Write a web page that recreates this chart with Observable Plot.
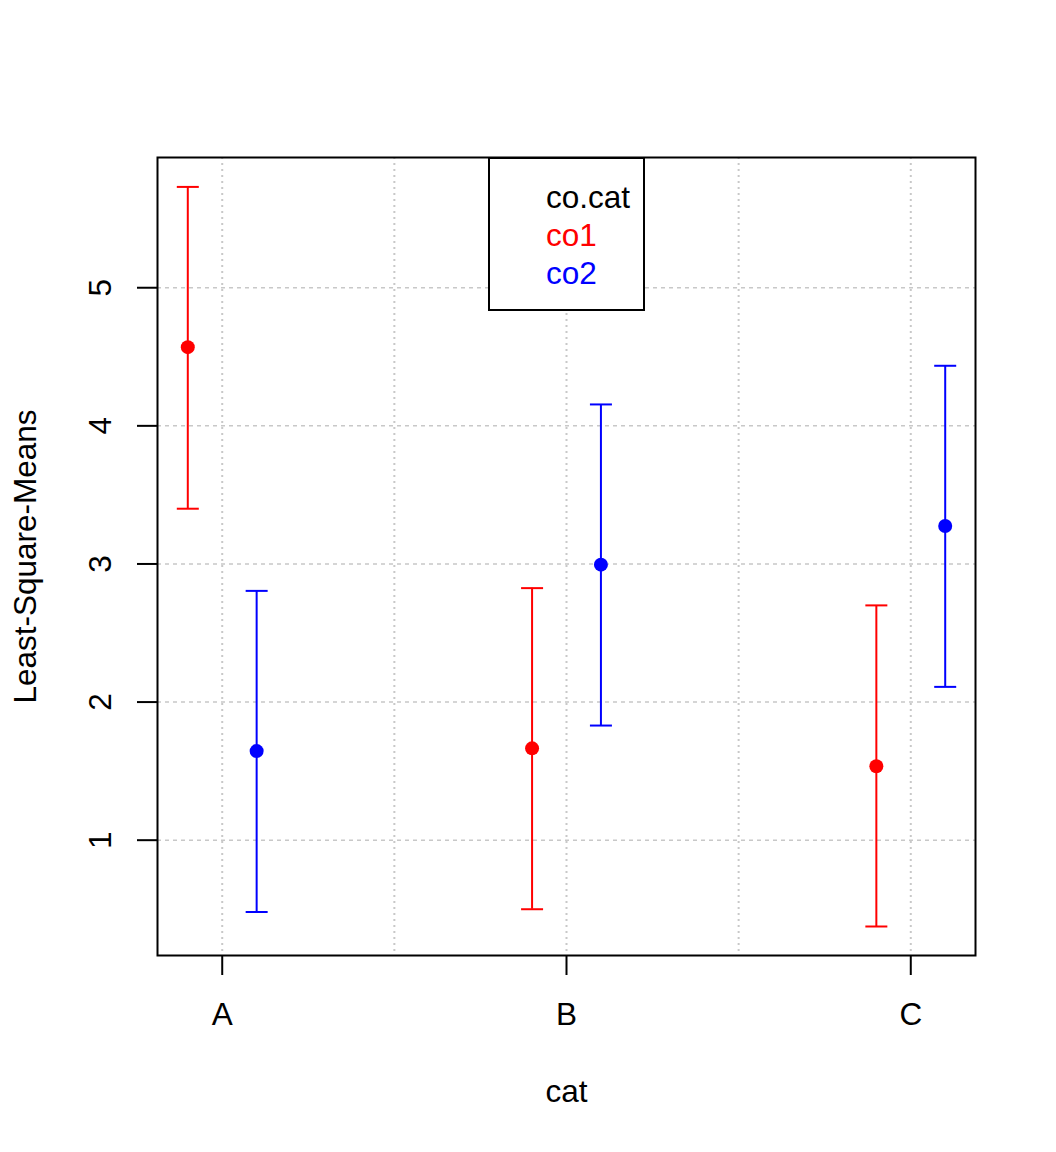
<!DOCTYPE html>
<html>
<head>
<meta charset="utf-8">
<script src="https://cdn.jsdelivr.net/npm/d3@7"></script>
<script src="https://cdn.jsdelivr.net/npm/@observablehq/plot@0.6"></script>
<style>
  html, body { margin: 0; padding: 0; background: #fff; }
  #wrap { position: relative; width: 1056px; height: 1152px; font-family: "Liberation Sans", Arial, Helvetica, sans-serif; }
  #legend { position: absolute; left: 488px; top: 157px; width: 157px; height: 154px; box-sizing: border-box;
            border: 2px solid #000; background: #fff; font-size: 31.5px; }
  #legend div { position: absolute; left: 56px; line-height: 38px; }
</style>
</head>
<body>
<div id="wrap"></div>
<script>
// categories and groups
const cats = ["A", "B", "C"];
const groups = ["co1", "co2"];
const groupColors = ["#ff0000", "#0000ff"];
const groupOffset = [-0.1, 0.1];
// least-square means and confidence bounds, per category (A,B,C)
const co1Mean  = [4.57, 1.665, 1.535];
const co1Lower = [3.40, 0.50, 0.375];
const co1Upper = [5.73, 2.825, 2.70];
const co2Mean  = [1.645, 2.995, 3.275];
const co2Lower = [0.48, 1.83, 2.11];
const co2Upper = [2.805, 4.155, 4.435];
// axis ticks
const yTicks = [1, 2, 3, 4, 5];
const xGrid = [1, 1.5, 2, 2.5, 3];
const legendTitle = "co.cat";

const means = [co1Mean, co2Mean], lowers = [co1Lower, co2Lower], uppers = [co1Upper, co2Upper];
const rows = [];
groups.forEach((g, gi) => cats.forEach((c, ci) => {
  rows.push({group: g, cat: c, x: ci + 1 + groupOffset[gi], mean: means[gi][ci], lo: lowers[gi][ci], hi: uppers[gi][ci]});
}));

const capSymbol = { draw(ctx) { ctx.moveTo(-11, 0); ctx.lineTo(11, 0); } };
const fs = 31.5;

const chart = Plot.plot({
  width: 1056,
  height: 1152,
  marginLeft: 157,
  marginRight: 81,
  marginTop: 157,
  marginBottom: 197,
  style: { fontFamily: "Liberation Sans, Arial, Helvetica, sans-serif", fontSize: fs + "px", background: "white" },
  x: { type: "linear", domain: [0.812, 3.188], axis: null },
  y: { domain: [0.165, 5.943], axis: null },
  color: { domain: groups, range: groupColors },
  marks: [
    Plot.ruleX(xGrid, { x: d => d, stroke: "#c8c8c8", strokeWidth: 2, strokeDasharray: "2,4" }),
    Plot.ruleY(yTicks, { y: d => d, stroke: "#c8c8c8", strokeWidth: 1.5, strokeDasharray: "4,4" }),
    // y ticks
    Plot.axisY({ ticks: yTicks, tickSize: 20, tickFormat: () => "", strokeWidth: 2, label: null }),
    Plot.text(yTicks, { y: d => d, text: d => String(d), frameAnchor: "left", textAnchor: "middle", dx: -57, rotate: -90, fontSize: fs, fill: "black" }),
    // x ticks
    Plot.axisX({ ticks: [1, 2, 3], tickSize: 20, tickFormat: () => "", strokeWidth: 2, label: null }),
    Plot.text(cats, { x: (d, i) => i + 1, text: d => d, frameAnchor: "bottom", dy: 69, fontSize: fs, fill: "black" }),
    // axis titles
    Plot.text(["cat"], { text: d => d, frameAnchor: "bottom", dy: 146, fontSize: fs, fill: "black" }),
    Plot.text(["Least-Square-Means"], { text: d => d, frameAnchor: "left", textAnchor: "middle", dx: -132, rotate: -90, fontSize: fs, fill: "black" }),
    // error bars
    Plot.ruleX(rows, { x: "x", y1: "lo", y2: "hi", stroke: "group", strokeWidth: 2 }),
    Plot.dot(rows, { x: "x", y: "lo", symbol: capSymbol, stroke: "group", strokeWidth: 2, fill: "none" }),
    Plot.dot(rows, { x: "x", y: "hi", symbol: capSymbol, stroke: "group", strokeWidth: 2, fill: "none" }),
    Plot.dot(rows, { x: "x", y: "mean", r: 7, fill: "group", stroke: "none" }),
    Plot.frame({ stroke: "black", strokeWidth: 2 })
  ]
});

const wrap = document.getElementById("wrap");
wrap.appendChild(chart);

const legend = document.createElement("div");
legend.id = "legend";
const items = [{ label: legendTitle, color: "#000" }].concat(groups.map((g, i) => ({ label: g, color: groupColors[i] })));
items.forEach((it, i) => {
  const d = document.createElement("div");
  d.textContent = it.label;
  d.style.color = it.color;
  d.style.top = (19 + i * 38) + "px";
  legend.appendChild(d);
});
wrap.appendChild(legend);
</script>
</body>
</html>
